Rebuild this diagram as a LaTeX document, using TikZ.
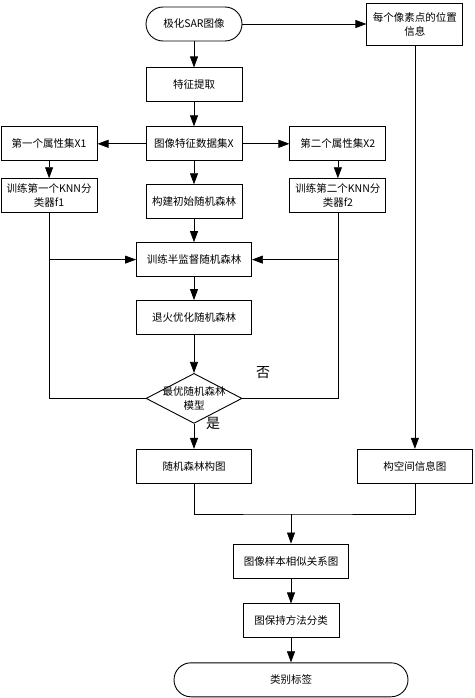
\documentclass[tikz,border=0pt]{standalone}
\usepackage{fontspec}
\setmainfont{Noto Sans CJK SC}
\usetikzlibrary{arrows.meta,positioning,shapes.geometric}

\begin{document}
\begin{tikzpicture}[
    x = 1pt, y = 1pt,
    > = {Triangle[length=11pt,width=8pt]}, % arrow head style
    node distance = 24pt, % distance between nodes
    line width = 0.7pt, % line style
    font = \fontsize{10.5pt}{14pt}\selectfont
    ]

    \tikzset{
    box/.style = {draw = black, line width = 0.9pt, fill = white,
        minimum width = 96pt, minimum height = 34pt, inner sep = 2pt, align = center},
    widebox/.style = {box, minimum width = 115pt},
    terminal/.style = {box, rounded corners = 17pt},
    decision/.style = {diamond, draw = black, line width = 0.9pt, fill = white,
        minimum width = 96pt, minimum height = 50pt, inner sep = -10pt, aspect = 2, align = center},
    answer/.style = {font = \fontsize{14pt}{14pt}\selectfont}
    }
    \useasboundingbox (0,0) rectangle (474,-698);

    \node[terminal] (sar) at (194,-24) {极化SAR图像};
    \node[box, minimum height = 42pt] (pos) [right=124pt of sar] {每个像素点的位置\\信息};
    \node[box] (extract) [below=26pt of sar] {特征提取};
    \node[box] (dataset) [below=of extract] {图像特征数据集X};
    \node[box] (attr1) [left=48pt of dataset] {第一个属性集X1};
    \node[box] (attr2) [right=47pt of dataset] {第二个属性集X2};
    \node[box] (knn1) [below=17pt of attr1] {训练第一个KNN分\\类器f1};
    \node[box] (knn2) [below=17pt of attr2] {训练第二个KNN分\\类器f2};
    \node[box] (init) [below=23pt of dataset] {构建初始随机森林};
    \node[widebox] (semi) [below=23pt of init] {训练半监督随机森林};
    \node[widebox] (anneal) [below=23pt of semi] {退火优化随机森林};
    \node[decision] (check) [below=38pt of anneal] {最优随机森林\\模型};
    \node[widebox] (rfgraph) [below=25pt of check] {随机森林构图};
    \node[widebox] (spatial) at (pos |- rfgraph) {构空间信息图};
    \coordinate (join) at (291,-514);
    \node[widebox] (similar) at (291,-561) {图像样本相似关系图};
    \node[box] (classify) [below=25pt of similar] {图保持方法分类};
    \node[terminal, minimum width = 234pt] (label) [below=24pt of classify] {类别标签};
    \node[answer] (no) at (263,-373) {否};
    \node[answer] (yes) at (213,-423) {是};

    \path[->] (sar) edge (pos)
              (sar) edge (extract)
              (extract) edge (dataset)
              (dataset) edge (attr1)
              (dataset) edge (attr2)
              (dataset) edge (init)
              (attr1) edge (knn1)
              (attr2) edge (knn2)
              (init) edge (semi)
              (semi) edge (anneal)
              (anneal) edge (check)
              (check) edge (rfgraph)
              (pos) edge (spatial)
              (join) edge (similar)
              (similar) edge (classify)
              (classify) edge (label);
    \draw (knn1.south) -- (knn1 |- check) -- (check.west);
    \draw (knn2.south) -- (knn2 |- check) -- (check.east);
    \draw[->] (knn1 |- semi) -- (semi.west);
    \draw[->] (knn2 |- semi) -- (semi.east);
    \draw (rfgraph.south) |- (join) -| (spatial.south);
\end{tikzpicture}
\end{document}
